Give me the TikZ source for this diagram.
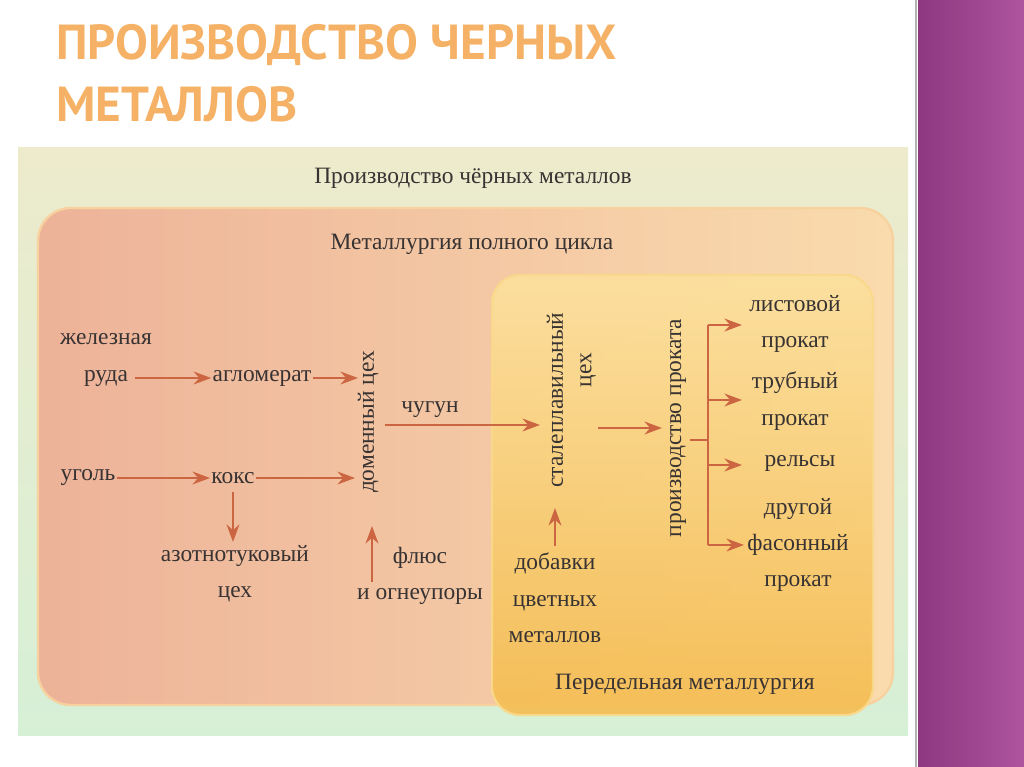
\documentclass[tikz,border=0pt]{standalone}
\usepackage{fontspec}
\setmainfont{Liberation Serif}
\newfontfamily\titlefont{PT Sans}
\usetikzlibrary{arrows.meta,calc}
\definecolor{arr}{rgb}{0.80,0.40,0.26}
\definecolor{txt}{rgb}{0.22,0.20,0.20}
\definecolor{ttl}{rgb}{0.96,0.70,0.40}
\tikzset{
  lbl/.style={font=\fontsize{20}{31}\selectfont, text=txt, align=center, inner sep=1pt},
  vlbl/.style={lbl, rotate=90},
  flow/.style={draw=arr, line width=1.6pt, -{Stealth[length=15pt,width=11pt]}},
  branch/.style={draw=arr, line width=1.6pt}
}
\begin{document}
\begin{tikzpicture}[x=0.03cm,y=-0.03cm]
     \useasboundingbox (0,0) rectangle (1024,767);
     \fill[white] (0,0) rectangle (1024,767);
     \shade[left color={rgb,1:red,0.55;green,0.22;blue,0.50}, right color={rgb,1:red,0.68;green,0.33;blue,0.62}] (918,0) rectangle (1024,767);
     \draw[gray!60, line width=1.5pt] (916,0) -- (916,767);

     \node[font=\titlefont\bfseries\fontsize{42}{60}\selectfont, text=ttl, anchor=west, align=left] (title1) at (52,45) {ПРОИЗВОДСТВО ЧЕРНЫХ};
     \node[font=\titlefont\bfseries\fontsize{42}{60}\selectfont, text=ttl, anchor=west, align=left] (title2) at (52,104) {МЕТАЛЛОВ};

     % background and boxes
     \shade[top color={rgb,1:red,0.93;green,0.92;blue,0.80}, bottom color={rgb,1:red,0.84;green,0.94;blue,0.84}] (18,148) rectangle (908,735);
     \shade[draw={rgb,1:red,0.97;green,0.82;blue,0.62}, line width=2pt, rounded corners=28pt,
        left color={rgb,1:red,0.93;green,0.70;blue,0.60}, right color={rgb,1:red,0.98;green,0.86;blue,0.68}] (38,208) rectangle (893,705);
     \shade[draw={rgb,1:red,0.98;green,0.85;blue,0.55}, line width=2pt, rounded corners=24pt, opacity=0.92,
        top color={rgb,1:red,0.99;green,0.88;blue,0.62}, bottom color={rgb,1:red,0.96;green,0.74;blue,0.32}] (492,275) rectangle (873,715);

     \node[lbl] (main) at (473,178) {Производство чёрных металлов};
     \node[lbl] (full) at (472,244) {Металлургия полного цикла};
     \node[lbl] (redist) at (685,684) {Передельная металлургия};

     \node[lbl] (ore) at (106,360) {железная\\руда};
     \node[lbl] (aglo) at (262,378) {агломерат};
     \node[lbl] (coal) at (88,478) {уголь};
     \node[lbl] (coke) at (233,478) {кокс};
     \node[lbl] (azot) at (235,574) {азотнотуковый\\цех};
     \node[vlbl] (blast) at (368,422) {доменный цех};
     \node[lbl] (flux) at (420,576) {флюс\\и огнеупоры};
     \node[lbl] (iron) at (430,410) {чугун};
     \node[vlbl] (steel) at (555,400) {сталеплавильный};
     \node[vlbl] (steel2) at (588,370) {цех};
     \node[lbl] (add) at (555,598) {добавки\\цветных\\металлов};
     \node[vlbl] (roll) at (678,428) {производство проката};
     \node[lbl] (sheet) at (795,324) {листовой\\прокат};
     \node[lbl] (tube) at (795,401) {трубный\\прокат};
     \node[lbl] (rails) at (800,463) {рельсы};
     \node[lbl] (shape) at (798,545) {другой\\фасонный\\прокат};

     \coordinate (j) at (708,440);

     \draw[flow] (135,378) -- (aglo.west);
     \draw[flow] (aglo.east) -- (358,378);
     \draw[flow] (coal.east) -- (coke.west);
     \draw[flow] (coke.east) -- (355,478);
     \draw[flow] (233,492) -- (233,542);
     \draw[flow] (372,582) -- (372,526);
     \draw[flow] (385,425) -- (540,425);
     \draw[flow] (555,546) -- (555,508);
     \draw[flow] (598,428) -- (662,428);
     \draw[branch] (690,440) -- (j);
     \draw[branch] (708,325) -- (708,545);
     \draw[flow] (708,325) -- (742,325);
     \draw[flow] (708,400) -- (742,400);
     \draw[flow] (708,465) -- (742,465);
     \draw[flow] (708,545) -- (744,545);
\end{tikzpicture}
\end{document}
